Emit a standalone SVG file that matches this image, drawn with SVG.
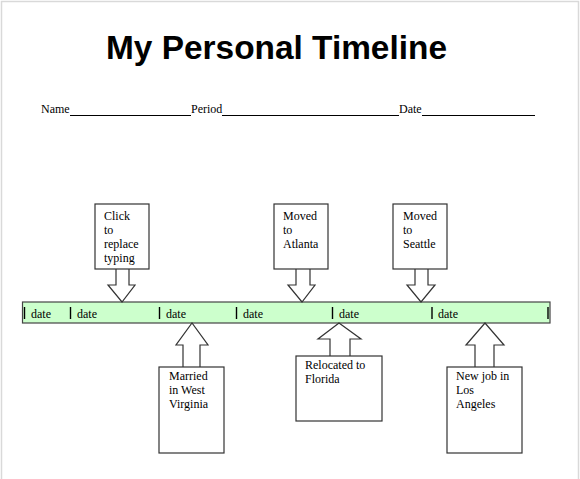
<svg xmlns="http://www.w3.org/2000/svg" width="580" height="479" viewBox="0 0 580 479">
<style>
.t{font-family:"Liberation Serif","Times New Roman",serif;font-size:12px;fill:#000}
.box{fill:#fff;stroke:#333;stroke-width:1.2}
.tick{stroke:#000;stroke-width:1.4}
.ul{stroke:#000;stroke-width:1}
</style>
<rect x="0" y="0" width="580" height="479" fill="#fff"/>
<path d="M1.5,479 V1.5 H578.5 V479" fill="none" stroke="#d9d9d9" stroke-width="1.5"/>
<text x="106" y="59" font-family="'Liberation Sans',Arial,sans-serif" font-weight="bold" font-size="33" textLength="341" lengthAdjust="spacingAndGlyphs">My Personal Timeline</text>
<g id="header">
<text class="t" x="41" y="112.5">Name</text>
<line class="ul" x1="70" y1="115.5" x2="191" y2="115.5"/>
<text class="t" x="191" y="112.5">Period</text>
<line class="ul" x1="222" y1="115.5" x2="399" y2="115.5"/>
<text class="t" x="399" y="112.5">Date</text>
<line class="ul" x1="422" y1="115.5" x2="535" y2="115.5"/>
</g>
<g id="timeline">
<rect x="22.5" y="302" width="527.5" height="21" fill="#ccffcc" stroke="#444" stroke-width="1.2"/>
<line class="tick" x1="24.5" y1="307" x2="24.5" y2="319"/>
<line class="tick" x1="70.5" y1="307" x2="70.5" y2="319"/>
<line class="tick" x1="159.5" y1="307" x2="159.5" y2="319"/>
<line class="tick" x1="236.5" y1="307" x2="236.5" y2="319"/>
<line class="tick" x1="332.5" y1="307" x2="332.5" y2="319"/>
<line class="tick" x1="432" y1="307" x2="432" y2="319"/>
<line class="tick" x1="548" y1="307" x2="548" y2="319"/>
<text class="t" x="31" y="317.5">date</text>
<text class="t" x="77" y="317.5">date</text>
<text class="t" x="166" y="317.5">date</text>
<text class="t" x="243" y="317.5">date</text>
<text class="t" x="339" y="317.5">date</text>
<text class="t" x="438" y="317.5">date</text>
</g>
<g id="connectors">
<path class="box" d="M116,269 V285 H108 L122,302 L135,285 H129 V269"/>
<path class="box" d="M296,269 V285 H288 L302,302 L315,285 H310 V269"/>
<path class="box" d="M415,269 V285 H407 L421,302 L435,285 H428 V269"/>
<path class="box" d="M183,367 V345 H176 L192,323 L208,345 H200 V367"/>
<path class="box" d="M330,356 V339 H318 L339,323 L361,339 H350 V356"/>
<path class="box" d="M475,367 V345 H466 L485,323 L504,345 H494 V367"/>
</g>
<g id="n1">
<rect class="box" x="95" y="204" width="54" height="65"/>
<text class="t" x="104" y="220">Click</text>
<text class="t" x="104" y="234">to</text>
<text class="t" x="104" y="248">replace</text>
<text class="t" x="104" y="262">typing</text>
</g>
<g id="n2">
<rect class="box" x="274" y="204" width="54" height="65"/>
<text class="t" x="283" y="220">Moved</text>
<text class="t" x="283" y="234">to</text>
<text class="t" x="283" y="248">Atlanta</text>
</g>
<g id="n3">
<rect class="box" x="393" y="204" width="54" height="65"/>
<text class="t" x="403" y="220">Moved</text>
<text class="t" x="403" y="234">to</text>
<text class="t" x="403" y="248">Seattle</text>
</g>
<g id="n4">
<rect class="box" x="159" y="367" width="65" height="86"/>
<text class="t" x="169" y="380">Married</text>
<text class="t" x="169" y="394">in West</text>
<text class="t" x="169" y="408">Virginia</text>
</g>
<g id="n5">
<rect class="box" x="296" y="356" width="86" height="65"/>
<text class="t" x="305" y="369">Relocated to</text>
<text class="t" x="305" y="383">Florida</text>
</g>
<g id="n6">
<rect class="box" x="447" y="367" width="75" height="86"/>
<text class="t" x="456" y="380">New job in</text>
<text class="t" x="456" y="394">Los</text>
<text class="t" x="456" y="408">Angeles</text>
</g>
</svg>
